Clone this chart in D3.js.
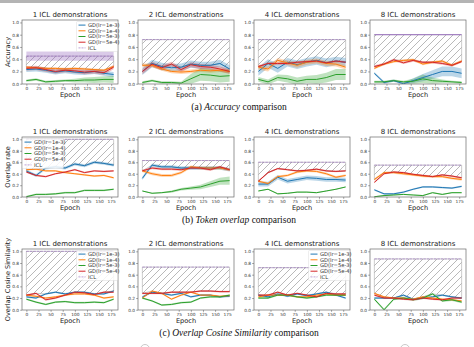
<!DOCTYPE html>
<html>
<head>
<meta charset="utf-8">
<script src="https://cdn.jsdelivr.net/npm/d3@7"></script>
<style>
  body { margin: 0; background: #fff; }
  svg { display: block; font-family: "DejaVu Sans", sans-serif; }
</style>
</head>
<body>
<svg id="chart" width="474" height="347"></svg>
<script>
// epochs sampled every 20
const epochs = [0, 20, 40, 60, 80, 100, 120, 140, 160, 180];
const seriesNames = ["GD(lr=1e-3)", "GD(lr=1e-4)", "GD(lr=5e-3)", "GD(lr=5e-4)"];
const seriesColors = ["#1f77b4", "#ff7f0e", "#2ca02c", "#d62728"];
const iclColor = "#9467bd";
const panelTitles = ["1 ICL demonstrations", "2 ICL demonstrations", "4 ICL demonstrations", "8 ICL demonstrations"];
const xTicks = [0, 25, 50, 75, 100, 125, 150, 175];
const yTicks = [0, 0.2, 0.4, 0.6, 0.8, 1.0];

// ---- (a) accuracy ----
const accMean = [
  [[0.23,0.24,0.22,0.19,0.21,0.19,0.18,0.20,0.17,0.15],
   [0.27,0.26,0.25,0.25,0.24,0.25,0.24,0.23,0.22,0.28],
   [0.05,0.07,0.03,0.04,0.05,0.05,0.06,0.06,0.07,0.07],
   [0.25,0.26,0.23,0.20,0.22,0.21,0.19,0.20,0.18,0.27]],
  [[0.20,0.33,0.28,0.26,0.27,0.32,0.30,0.30,0.33,0.24],
   [0.30,0.30,0.24,0.20,0.19,0.20,0.22,0.21,0.22,0.20],
   [0.02,0.05,0.02,0.02,0.01,0.08,0.15,0.14,0.12,0.13],
   [0.20,0.32,0.26,0.32,0.23,0.31,0.28,0.27,0.24,0.20]],
  [[0.20,0.33,0.25,0.35,0.31,0.35,0.38,0.34,0.37,0.35],
   [0.27,0.24,0.38,0.34,0.30,0.35,0.37,0.33,0.32,0.27],
   [0.07,0.03,0.10,0.08,0.04,0.07,0.07,0.10,0.15,0.15],
   [0.28,0.33,0.33,0.33,0.35,0.36,0.37,0.34,0.37,0.35]],
  [[0.17,0.02,0.05,0.00,0.05,0.10,0.15,0.20,0.20,0.17],
   [0.25,0.32,0.36,0.38,0.39,0.32,0.35,0.37,0.30,0.37],
   [0.03,0.03,0.05,0.03,0.04,0.08,0.05,0.04,0.03,0.02],
   [0.28,0.32,0.39,0.34,0.38,0.35,0.35,0.33,0.30,0.36]]
];
const accSd = [
  [0.04, 0.02, [0.02,0.02,0.02,0.02,0.02,0.03,0.04,0.05,0.05,0.06], 0.035],
  [0.06, 0.03, [0.02,0.02,0.02,0.02,0.02,0.08,0.10,0.10,0.10,0.10], 0.04],
  [0.07, 0.04, [0.04,0.04,0.05,0.06,0.06,0.06,0.07,0.08,0.09,0.09], 0.02],
  [[0.02,0.02,0.02,0.02,0.04,0.06,0.07,0.08,0.08,0.08], 0.02, [0.02,0.02,0.02,0.02,0.04,0.07,0.05,0.03,0.02,0.02], 0.02]
];
const accIcl = [0.45, 0.72, 0.72, 0.80];
const accIclSd = [0.075, 0, 0, 0];

// ---- (b) token overlap ----
const overlapMean = [
  [[0.45,0.37,0.50,0.52,0.50,0.57,0.54,0.60,0.58,0.55],
   [0.47,0.48,0.45,0.45,0.42,0.40,0.38,0.36,0.37,0.33],
   [0.00,0.04,0.04,0.05,0.07,0.07,0.11,0.11,0.11,0.13],
   [0.43,0.37,0.35,0.40,0.43,0.47,0.42,0.45,0.44,0.45]],
  [[0.32,0.55,0.52,0.52,0.50,0.50,0.50,0.50,0.50,0.47],
   [0.45,0.40,0.37,0.37,0.42,0.52,0.50,0.50,0.50,0.47],
   [0.10,0.06,0.07,0.09,0.13,0.15,0.17,0.22,0.27,0.28],
   [0.45,0.50,0.48,0.48,0.47,0.50,0.50,0.47,0.52,0.47]],
  [[0.22,0.22,0.34,0.27,0.30,0.33,0.32,0.30,0.30,0.29],
   [0.27,0.23,0.35,0.37,0.43,0.45,0.44,0.40,0.34,0.37],
   [0.10,0.13,0.05,0.06,0.08,0.08,0.07,0.10,0.13,0.17],
   [0.27,0.42,0.49,0.47,0.45,0.46,0.48,0.45,0.44,0.45]],
  [[0.12,0.05,0.05,0.08,0.13,0.17,0.17,0.16,0.15,0.18],
   [0.30,0.42,0.42,0.40,0.38,0.36,0.35,0.35,0.32,0.30],
   [0.00,0.02,0.03,0.04,0.03,0.02,0.07,0.04,0.07,0.07],
   [0.25,0.40,0.43,0.42,0.39,0.37,0.35,0.38,0.36,0.33]]
];
const overlapSd = [
  [0.025, 0.015, 0.015, 0.015],
  [0.03, 0.025, [0.01,0.01,0.01,0.02,0.02,0.03,0.04,0.05,0.06,0.07], 0.02],
  [0.04, 0.02, 0.01, 0.015],
  [0.015, 0.02, 0.01, 0.015]
];
const overlapIcl = [1.0, 0.63, 0.60, 0.55];
const overlapIclSd = [0, 0, 0, 0];

// ---- (c) overlap cosine similarity ----
const cosMean = [
  [[0.22,0.20,0.27,0.30,0.27,0.30,0.30,0.27,0.27,0.32],
   [0.25,0.23,0.20,0.22,0.25,0.27,0.27,0.25,0.20,0.22],
   [0.18,0.13,0.09,0.13,0.14,0.12,0.12,0.13,0.12,0.18],
   [0.25,0.28,0.17,0.20,0.25,0.30,0.29,0.26,0.30,0.30]],
  [[0.22,0.30,0.28,0.25,0.28,0.22,0.25,0.25,0.22,0.23],
   [0.20,0.32,0.28,0.18,0.25,0.30,0.25,0.25,0.23,0.24],
   [0.20,0.15,0.08,0.09,0.12,0.13,0.20,0.22,0.22,0.25],
   [0.28,0.28,0.28,0.30,0.30,0.30,0.32,0.32,0.31,0.31]],
  [[0.25,0.22,0.27,0.23,0.27,0.24,0.27,0.30,0.25,0.20],
   [0.22,0.25,0.25,0.25,0.22,0.22,0.25,0.27,0.25,0.25],
   [0.20,0.20,0.25,0.25,0.22,0.20,0.22,0.25,0.25,0.25],
   [0.25,0.25,0.30,0.25,0.28,0.25,0.22,0.28,0.27,0.27]],
  [[0.20,0.20,0.20,0.25,0.18,0.20,0.22,0.25,0.22,0.20],
   [0.28,0.22,0.20,0.20,0.18,0.22,0.20,0.18,0.17,0.15],
   [0.18,0.00,0.18,0.20,0.17,0.20,0.27,0.15,0.17,0.13],
   [0.25,0.20,0.20,0.18,0.17,0.20,0.18,0.17,0.20,0.20]]
];
const cosSd = [
  [0.015, 0.015, 0.015, 0.015],
  [0.015, 0.015, 0.015, 0.015],
  [0.015, 0.015, 0.015, 0.015],
  [0.015, 0.015, 0.02, 0.015]
];
const cosIcl = [1.0, 0.73, 0.72, 0.87];
const cosIclSd = [0, 0, 0, 0];

const rows = [
  { mean: accMean, sd: accSd, icl: accIcl, iclSd: accIclSd, ylabel: "Accuracy",
    caption: [["(a) ", false], ["Accuracy", true], [" comparison", false]], legends: { 0: "right" } },
  { mean: overlapMean, sd: overlapSd, icl: overlapIcl, iclSd: overlapIclSd, ylabel: "Overlap rate",
    caption: [["(b) ", false], ["Token overlap", true], [" comparison", false]], legends: { 0: "left" } },
  { mean: cosMean, sd: cosSd, icl: cosIcl, iclSd: cosIclSd, ylabel: "Overlap Cosine Similarity",
    caption: [["(c) ", false], ["Overlap Cosine Similarity", true], [" comparison", false]], legends: { 0: "right", 2: "right" } }
];

// layout
const colLeft = [22, 138, 254, 370];
const panelW = 96;
const rowTop = [20, 137, 249];
const rowBottom = [84, 197, 310];

const svg = d3.select("#chart");
const defs = svg.append("defs");

defs.append("pattern")
  .attr("id", "hatch")
  .attr("patternUnits", "userSpaceOnUse")
  .attr("width", 7)
  .attr("height", 7)
  .append("path")
  .attr("d", "M-1,1 l2,-2 M0,7 l7,-7 M6,8 l2,-2")
  .attr("stroke", "#8a8a8a")
  .attr("stroke-width", 0.6);

// grey strip at the top of the page
svg.append("rect").attr("x", 0).attr("y", 0).attr("width", 474).attr("height", 3).attr("fill", "#b4b4b4");

const sdAt = (s, i) => (Array.isArray(s) ? s[i] : s);

rows.forEach((row, r) => {
  const h = rowBottom[r] - rowTop[r];
  const y = d3.scaleLinear().domain([-0.005, 1.04]).range([h, 0]);

  row.mean.forEach((panel, p) => {
    const x = d3.scaleLinear().domain([-9, 189]).range([0, panelW]);
    const g = svg.append("g").attr("transform", `translate(${colLeft[p]},${rowTop[r]})`);
    const clipId = `clip-${r}-${p}`;
    defs.append("clipPath").attr("id", clipId)
      .append("rect").attr("width", panelW).attr("height", h);
    const plot = g.append("g").attr("clip-path", `url(#${clipId})`);

    const icl = row.icl[p];
    const maxGD = epochs.map((e, i) => d3.max(panel, s => s[i]));

    // gap between best GD run and ICL
    plot.append("path")
      .datum(epochs)
      .attr("d", d3.area()
        .x(d => x(d))
        .y0((d, i) => y(maxGD[i]))
        .y1(() => y(icl)))
      .attr("fill", "url(#hatch)")
      .attr("stroke", "#9a9a9a")
      .attr("stroke-width", 0.5);

    if (row.iclSd[p] > 0) {
      plot.append("rect")
        .attr("x", x(epochs[0]))
        .attr("width", x(epochs[epochs.length - 1]) - x(epochs[0]))
        .attr("y", y(icl + row.iclSd[p]))
        .attr("height", y(icl - row.iclSd[p]) - y(icl + row.iclSd[p]))
        .attr("fill", iclColor)
        .attr("opacity", 0.35);
    }

    panel.forEach((vals, s) => {
      const sd = row.sd[p][s];
      plot.append("path")
        .datum(vals)
        .attr("d", d3.area()
          .x((d, i) => x(epochs[i]))
          .y0((d, i) => y(d - sdAt(sd, i)))
          .y1((d, i) => y(d + sdAt(sd, i))))
        .attr("fill", seriesColors[s])
        .attr("opacity", 0.3);
    });

    panel.forEach((vals, s) => {
      plot.append("path")
        .datum(vals)
        .attr("d", d3.line().x((d, i) => x(epochs[i])).y(d => y(d)))
        .attr("fill", "none")
        .attr("stroke", seriesColors[s])
        .attr("stroke-width", 1);
    });

    plot.append("line")
      .attr("x1", x(epochs[0])).attr("x2", x(epochs[epochs.length - 1]))
      .attr("y1", y(icl)).attr("y2", y(icl))
      .attr("stroke", iclColor)
      .attr("stroke-width", 1)
      .attr("stroke-dasharray", p === 3 && r === 0 ? null : "2.5,1")
      .attr("opacity", p === 3 && r === 0 ? 0.9 : 0.6);

    // axes
    const xAxis = g.append("g")
      .attr("transform", `translate(0,${h})`)
      .call(d3.axisBottom(x).tickValues(xTicks).tickSize(1.8).tickPadding(1.2));
    const yAxis = g.append("g")
      .call(d3.axisLeft(y).tickValues(yTicks).tickFormat(d3.format(".1f")).tickSize(1.8).tickPadding(1.2));
    [xAxis, yAxis].forEach(a => {
      a.select(".domain").remove();
      a.selectAll("line").attr("stroke", "#444").attr("stroke-width", 0.5);
      a.selectAll("text").attr("font-size", 4.3).attr("fill", "#333").attr("font-family", "DejaVu Sans");
    });

    g.append("rect")
      .attr("width", panelW).attr("height", h)
      .attr("fill", "none")
      .attr("stroke", "#6a6a6a")
      .attr("stroke-width", 0.7);

    g.append("text")
      .attr("x", panelW / 2).attr("y", -3.5)
      .attr("text-anchor", "middle")
      .attr("font-size", 7)
      .attr("fill", "#222")
      .text(panelTitles[p]);

    g.append("text")
      .attr("x", panelW / 2).attr("y", h + 12.5)
      .attr("text-anchor", "middle")
      .attr("font-size", 6.6)
      .attr("fill", "#222")
      .text("Epoch");

    // legend
    const side = row.legends[p];
    if (side) {
      const lw = 41, lh = 30;
      const lx = side === "right" ? panelW - lw - 0.5 : 0.5;
      const lg = g.append("g").attr("transform", `translate(${lx},1.5)`);
      lg.append("rect")
        .attr("width", lw).attr("height", lh).attr("rx", 1)
        .attr("fill", "#fff").attr("fill-opacity", 0.85)
        .attr("stroke", "#d4d4d4").attr("stroke-width", 0.4);
      const entries = seriesNames.map((n, i) => ({ name: n, color: seriesColors[i], dash: null, op: 1 }))
        .concat([{ name: "ICL", color: iclColor, dash: "2,1", op: 0.6 }]);
      entries.forEach((e, i) => {
        const ey = 3.6 + i * 5.7;
        lg.append("line")
          .attr("x1", 2).attr("x2", 9)
          .attr("y1", ey).attr("y2", ey)
          .attr("stroke", e.color).attr("stroke-width", 1)
          .attr("stroke-dasharray", e.dash).attr("opacity", e.op);
        lg.append("text")
          .attr("x", 11.5).attr("y", ey + 1.7)
          .attr("font-size", 5.2).attr("fill", "#333")
          .text(e.name);
      });
    }
  });

  // y label
  const cy = (rowTop[r] + rowBottom[r]) / 2;
  svg.append("text")
    .attr("transform", `translate(10,${cy}) rotate(-90)`)
    .attr("text-anchor", "middle")
    .attr("font-size", 6.6)
    .attr("fill", "#222")
    .text(row.ylabel);

  // caption
  const cap = svg.append("text")
    .attr("x", 239).attr("y", rowBottom[r] + 26)
    .attr("text-anchor", "middle")
    .attr("font-family", "Liberation Serif, serif")
    .attr("font-size", 9.5)
    .attr("fill", "#111");
  row.caption.forEach(([t, it]) => {
    cap.append("tspan").attr("font-style", it ? "italic" : "normal").text(t);
  });
});

// faint icons cut off at the bottom edge
[145, 405].forEach(cx => {
  svg.append("circle").attr("cx", cx).attr("cy", 349).attr("r", 4.5)
    .attr("fill", "none").attr("stroke", "#bbb").attr("stroke-width", 0.8);
});
</script>
</body>
</html>
